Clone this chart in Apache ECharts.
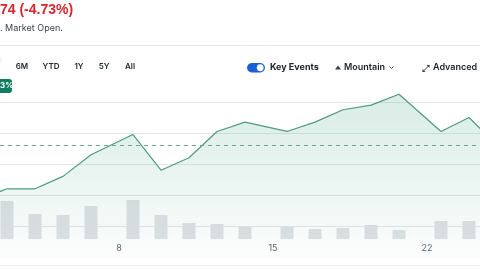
<!DOCTYPE html>
<html>
<head>
<meta charset="utf-8">
<script src="https://cdn.jsdelivr.net/npm/echarts@6/dist/echarts.min.js"></script>
<style>
  html, body { margin: 0; padding: 0; background: #fff; }
  #main { width: 480px; height: 270px; }
</style>
</head>
<body>
<div id="main"></div>
<script>
// trading days of the month shown
var days = [1, 2, 3, 4, 5, 8, 9, 10, 11, 12, 15, 16, 17, 18, 19, 22, 23, 24];
var prices = [173.7, 174.4, 174.4, 175.2, 176.6, 177.9, 175.6, 176.4, 178.1, 178.7,
  178.1, 178.7, 179.5, 179.8, 180.5, 178.1, 179.0, 177.2];
var volumes = [30, 38, 25, 24, 33, 39, 24, 16, 15, 12, 12, 10, 11, 14, 9, 18, 18, 20];
var prevClose = 177.2;
var tickDays = [8, 15, 22];
var rangeButtons = ['6M', 'YTD', '1Y', '5Y', 'All'];

// weekdays take one slot each, a weekend takes one and a half
function slot(d) {
  var week = Math.floor((d - 1) / 7);
  return week * 5.5 + (d - 1) % 7;
}

var priceData = days.map(function (d, i) { return [slot(d), prices[i]]; });
var volumeData = days.map(function (d, i) { return [slot(d), volumes[i]]; });
var tickSlots = tickDays.map(function (d) { return slot(d) - 0.5; });

var chart = echarts.init(document.getElementById('main'));

var font = 'Inter, "Liberation Sans", sans-serif';
var btnX = [22, 51, 79, 104, 130];

var graphics = [
  { type: 'text', left: 0, top: 3, style: { text: '74 (-4.73%)', fill: '#d8262c', font: 'bold 14px "Liberation Sans", Arial, sans-serif' } },
  { type: 'text', left: 0, top: 24, style: { text: '. Market Open.', fill: '#3c4248', font: '9px ' + font } },
  { type: 'line', shape: { x1: 0, y1: 45.5, x2: 480, y2: 45.5 }, style: { stroke: '#e9eaec', lineWidth: 1 } },
  { type: 'line', shape: { x1: 0, y1: 265.5, x2: 480, y2: 265.5 }, style: { stroke: '#eeeff1', lineWidth: 1 } },
  { type: 'rect', shape: { x: -10, y: 57, width: 12, height: 6, r: 3 }, style: { fill: '#eaf3fc' } },
  { type: 'rect', shape: { x: -6, y: 79, width: 18, height: 14, r: 3 }, style: { fill: '#0f7d5f' } },
  { type: 'text', left: 0, top: 82, style: { text: '3%', fill: '#fff', font: 'bold 8px ' + font } },
  // key events toggle
  { type: 'rect', shape: { x: 247, y: 63, width: 18, height: 9.5, r: 4.75 }, style: { fill: '#1a5fd8' } },
  { type: 'circle', shape: { cx: 260.2, cy: 67.75, r: 3.4 }, style: { fill: '#fff' } },
  { type: 'text', left: 270, top: 63, style: { text: 'Key Events', fill: '#1d2228', font: 'bold 9px ' + font } },
  { type: 'polygon', shape: { points: [[335, 69.5], [338, 65.5], [341, 69.5]] }, style: { fill: '#3c4248' } },
  { type: 'text', left: 344, top: 63, style: { text: 'Mountain', fill: '#1d2228', font: '600 9px ' + font } },
  { type: 'polyline', shape: { points: [[389.5, 66.5], [391.5, 68.5], [393.5, 66.5]] }, style: { stroke: '#3c4248', lineWidth: 0.9, fill: null } },
  { type: 'polyline', shape: { points: [[423, 71.5], [429, 65.5]] }, style: { stroke: '#3c4248', lineWidth: 1 } },
  { type: 'polygon', shape: { points: [[426.5, 65], [429.5, 65], [429.5, 68]] }, style: { fill: '#3c4248' } },
  { type: 'polygon', shape: { points: [[422.5, 69], [422.5, 72], [425.5, 72]] }, style: { fill: '#3c4248' } },
  { type: 'text', x: 433, y: 63, style: { text: 'Advanced Chart', fill: '#1d2228', font: '600 9px ' + font } }
];
rangeButtons.forEach(function (b, i) {
  graphics.push({
    type: 'text', x: btnX[i], y: 66.5,
    style: { text: b, fill: '#232a31', font: '600 8px ' + font, align: 'center', verticalAlign: 'middle' }
  });
});

var xMin = 0.75, xMax = 501 / 28;

var option = {
  animation: false,
  graphic: graphics,
  grid: [
    { left: 0, right: 0, top: 71, bottom: 13 },
    { left: 0, right: 0, top: 190, bottom: 31 }
  ],
  xAxis: [
    {
      type: 'value', gridIndex: 0, min: xMin, max: xMax,
      axisLine: { show: false }, axisTick: { show: false }, axisLabel: { show: false }, splitLine: { show: false }
    },
    {
      type: 'value', gridIndex: 1, min: xMin, max: xMax,
      axisLine: { show: false }, axisTick: { show: false }, splitLine: { show: false },
      axisLabel: {
        customValues: tickSlots,
        margin: 5,
        color: '#5b636a',
        fontSize: 9,
        fontFamily: font,
        formatter: function (v) {
          var i = tickSlots.indexOf(v);
          return i >= 0 ? String(tickDays[i]) : '';
        }
      }
    }
  ],
  yAxis: [
    {
      type: 'value', gridIndex: 0, min: 170, max: 182, interval: 2,
      axisLine: { show: false }, axisTick: { show: false }, axisLabel: { show: false },
      splitLine: { show: true, showMinLine: false, showMaxLine: false, lineStyle: { color: '#e4e6e8', width: 1 } }
    },
    {
      type: 'value', gridIndex: 1, min: 0, max: 49,
      axisLine: { show: false }, axisTick: { show: false }, axisLabel: { show: false }, splitLine: { show: false }
    }
  ],
  series: [
    {
      type: 'line',
      xAxisIndex: 0, yAxisIndex: 0,
      data: priceData,
      symbol: 'none',
      lineStyle: { color: '#4f9a81', width: 1.2 },
      areaStyle: {
        origin: 'start',
        color: new echarts.graphic.LinearGradient(0, 0, 0, 1, [
          { offset: 0, color: 'rgba(92,176,146,0.34)' },
          { offset: 1, color: 'rgba(92,176,146,0.03)' }
        ])
      },
      markLine: {
        silent: true,
        symbol: 'none',
        label: { show: false },
        lineStyle: { color: '#6aa994', type: [4, 4], width: 1 },
        data: [{ yAxis: prevClose }]
      }
    },
    {
      type: 'bar',
      xAxisIndex: 1, yAxisIndex: 1,
      data: volumeData,
      barWidth: 13,
      itemStyle: { color: '#dfe0e3' }
    }
  ]
};

chart.setOption(option);
</script>
</body>
</html>
